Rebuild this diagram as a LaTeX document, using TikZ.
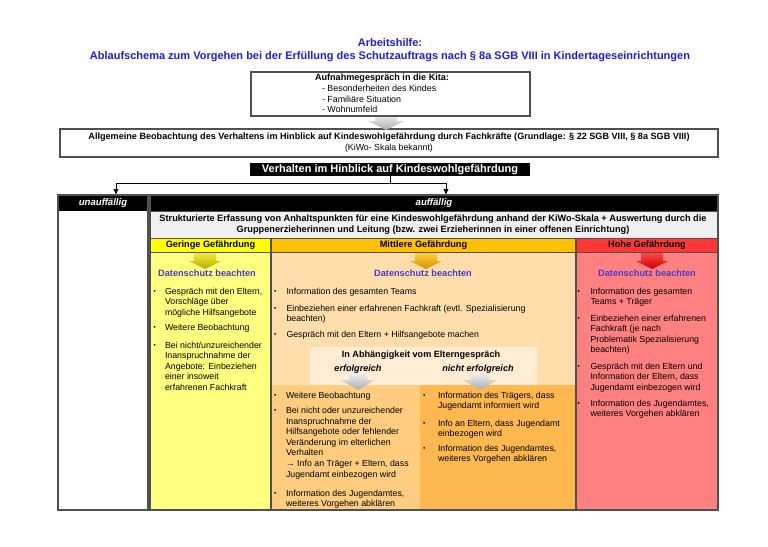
\documentclass[tikz,border=0pt]{standalone}
\usepackage{fontspec}
\setmainfont{Liberation Sans}
\usetikzlibrary{arrows.meta}
\definecolor{tblue}{RGB}{30,30,215}
\definecolor{dsblue}{RGB}{70,60,205}
\definecolor{lyel}{RGB}{255,255,128}
\definecolor{hyel}{RGB}{255,255,0}
\definecolor{horg}{RGB}{255,192,0}
\definecolor{lorg}{RGB}{255,222,172}
\definecolor{morg}{RGB}{255,204,128}
\definecolor{dorg}{RGB}{255,184,80}
\definecolor{hred}{RGB}{255,55,55}
\definecolor{lred}{RGB}{255,128,128}
\definecolor{sgray}{RGB}{240,240,240}
\definecolor{bord}{RGB}{80,80,80}
\definecolor{abox}{RGB}{255,236,212}
\newcommand\bu[1]{\makebox[#1][l]{\raisebox{0.8pt}{\fontsize{6.5}{5}\selectfont\textbullet}}}
\newcommand\ind[1]{\hspace*{#1}}
\newcommand\dnarrow[7]{\shade[#7] ({#1-#5},#2) -- ({#1+#5},#2) -- ({#1+#5},#3) -- ({#1+#6},#3) -- (#1,#4) -- ({#1-#6},#3) -- ({#1-#5},#3) -- cycle;}
\begin{document}
\begin{tikzpicture}[x=1pt,y=-1pt,
 every node/.style={inner sep=0pt,outer sep=0pt},
 ttl/.style={font=\fontsize{11}{13}\selectfont\bfseries,text=tblue},
 bld/.style={font=\fontsize{9.1}{10}\selectfont\bfseries},
 txt/.style={font=\fontsize{8.8}{10}\selectfont},
 itm/.style={font=\fontsize{8.8}{10.4}\selectfont,anchor=north west,align=left},
 ds/.style={font=\fontsize{9.2}{10}\selectfont\bfseries,text=dsblue},
 conn/.style={line width=0.9pt,-{Latex[length=6pt,width=5.5pt]}},
 hdr/.style={fill=black,text=white,font=\fontsize{9.6}{10}\selectfont\bfseries\itshape},
 lvl/.style={font=\fontsize{9.2}{10}\selectfont\bfseries},
 frame/.style={draw=bord,line width=1.1pt},
]
\fill[white] (0,0) rectangle (768,546);
\useasboundingbox (0,0) rectangle (768,546);

% title
\node[ttl] (t1) at (390,43) {Arbeitshilfe:};
\node[ttl] (t2) at (390,57) {Ablaufschema zum Vorgehen bei der Erfüllung des Schutzauftrags nach § 8a SGB VIII in Kindertageseinrichtungen};

% Aufnahme box
\node[frame,fill=white,minimum width=279pt,minimum height=44pt] (aufbox) at (390.5,94) {};
\node[bld] (auft) at (382,78) {Aufnahmegespräch in die Kita:};
\node[itm,font=\fontsize{8.9}{10.2}\selectfont] (aufl) at (322,85.5) {- Besonderheiten des Kindes\\- Familiäre Situation\\- Wohnumfeld};

% Allgemeine box
\node[frame,fill=white,minimum width=658pt,minimum height=28pt] (allbox) at (389,143) {};
\node[bld] (all1) at (389,137) {Allgemeine Beobachtung des Verhaltens im Hinblick auf Kindeswohlgefährdung durch Fachkräfte (Grundlage: § 22 SGB VIII, § 8a SGB VIII)};
\node[txt] (all2) at (389,148.5) {(KiWo- Skala bekannt)};

% gray arrow
\dnarrow{386}{117}{121}{130}{11}{18}{top color=gray!20,bottom color=gray!65}

% black bar
\node[fill=black,text=white,font=\fontsize{11}{12}\selectfont\bfseries,minimum width=280pt,minimum height=13.5pt] (bar) at (390,169.5) {Verhalten im Hinblick auf Kindeswohlgefährdung};

% headers
\node[hdr,minimum width=90pt,minimum height=16pt] (unh) at (103,203) {unauffällig};
\node[hdr,minimum width=568pt,minimum height=16pt] (auh) at (434,203) {auffällig};
\coordinate (jn) at (390,183);
\coordinate (ua) at (116,195);
\coordinate (aa) at (446,195);
\draw[conn] (bar.south) -- (jn) -| (ua);
\draw[conn] (jn) -| (aa);

% bodies
\node[fill=white,minimum width=90pt,minimum height=299pt] (unb) at (103,360.5) {};
\node[fill=sgray,minimum width=568pt,minimum height=27pt] (struk) at (434,224.5) {};
\node[bld,align=center,font=\fontsize{9.2}{11}\selectfont\bfseries] (strukt) at (433,224.5) {Strukturierte Erfassung von Anhaltspunkten für eine Kindeswohlgefährdung anhand der KiWo-Skala + Auswertung durch die\\Gruppenerzieherinnen und Leitung (bzw. zwei Erzieherinnen in einer offenen Einrichtung)};

\node[lvl,fill=hyel,minimum width=121pt,minimum height=14pt] (gh) at (210.5,245) {Geringe Gefährdung};
\node[lvl,fill=horg,minimum width=305pt,minimum height=14pt] (mh) at (423.5,245) {Mittlere Gefährdung};
\node[lvl,fill=hred,minimum width=142pt,minimum height=14pt] (hh) at (647,245) {Hohe Gefährdung};

\node[fill=lyel,minimum width=121pt,minimum height=258pt] (gb) at (210.5,381) {};
\node[fill=lorg,minimum width=305pt,minimum height=133pt] (mb) at (423.5,318.5) {};
\node[fill=morg,minimum width=149pt,minimum height=125pt] (mlb) at (345.5,447.5) {};
\node[fill=dorg,minimum width=156pt,minimum height=125pt] (mrb) at (498,447.5) {};
\node[fill=lred,minimum width=142pt,minimum height=258pt] (hb) at (647,381) {};
\node[fill=abox,minimum width=227pt,minimum height=38pt] (abb) at (423.5,366) {};

% Datenschutz arrows
\dnarrow{205}{253}{261}{269}{11}{16}{top color={rgb,255:red,240;green,235;blue,60},bottom color={rgb,255:red,185;green,170;blue,0}}
\dnarrow{426}{253}{261}{269}{11}{16}{top color={rgb,255:red,255;green,205;blue,60},bottom color={rgb,255:red,215;green,145;blue,0}}
\dnarrow{652}{253}{261}{269}{11}{16}{top color={rgb,255:red,255;green,70;blue,70},bottom color={rgb,255:red,205;green,0;blue,0}}
\node[ds] (dsg) at (207,273.5) {Datenschutz beachten};
\node[ds] (dsm) at (423,273.5) {Datenschutz beachten};
\node[ds] (dsh) at (647,273.5) {Datenschutz beachten};

% Geringe items
\node[itm] (g1) at (153.5,288) {\bu{11.5pt}Gespräch mit den Eltern,\\\ind{11.5pt}Vorschläge über\\\ind{11.5pt}mögliche Hilfsangebote};
\node[itm] (g2) at (153.5,324) {\bu{11.5pt}Weitere Beobachtung};
\node[itm,font=\fontsize{8.8}{10.5}\selectfont] (g3) at (153.5,342) {\bu{11.5pt}Bei nicht/unzureichender\\\ind{11.5pt}Inanspruchnahme der\\\ind{11.5pt}Angebote: Einbeziehen\\\ind{11.5pt}einer insoweit\\\ind{11.5pt}erfahrenen Fachkraft};

% Mittlere items
\node[itm] (m1) at (274,288) {\bu{12.5pt}Information des gesamten Teams};
\node[itm] (m2) at (274,305) {\bu{12.5pt}Einbeziehen einer erfahrenen Fachkraft (evtl. Spezialisierung\\\ind{12.5pt}beachten)};
\node[itm] (m3) at (274,331) {\bu{12.5pt}Gespräch mit den Eltern + Hilfsangebote machen};

% Abhaengigkeit
\node[bld] (abt) at (421,355) {In Abhängigkeit vom Elterngespräch};
\node[bld,font=\fontsize{9.1}{10}\selectfont\bfseries\itshape] (erf) at (358,369.5) {erfolgreich};
\node[bld,font=\fontsize{9.1}{10}\selectfont\bfseries\itshape] (nerf) at (478,369.5) {nicht erfolgreich};
\dnarrow{358}{374}{380}{390}{9}{17}{top color=gray!15,bottom color=gray!65}
\dnarrow{480}{374}{380}{390}{9}{17}{top color=gray!15,bottom color=gray!65}

% lower left
\node[itm] (l1) at (274,392) {\bu{12pt}Weitere Beobachtung};
\node[itm,font=\fontsize{8.8}{10.65}\selectfont] (l2) at (274,407) {\bu{12pt}Bei nicht oder unzureichender\\\ind{12pt}Inanspruchnahme der\\\ind{12pt}Hilfsangebote oder fehlender\\\ind{12pt}Veränderung im elterlichen\\\ind{12pt}Verhalten\\\ind{12pt}→ Info an Träger + Eltern, dass\\\ind{12pt}Jugendamt einbezogen wird};
\node[itm] (l3) at (274,490) {\bu{12pt}Information des Jugendamtes,\\\ind{12pt}weiteres Vorgehen abklären};

% lower right
\node[itm] (r1) at (423,392) {\bu{15pt}Information des Trägers, dass\\\ind{15pt}Jugendamt informiert wird};
\node[itm] (r2) at (423,420) {\bu{15pt}Info an Eltern, dass Jugendamt\\\ind{15pt}einbezogen wird};
\node[itm] (r3) at (423,445) {\bu{15pt}Information des Jugendamtes,\\\ind{15pt}weiteres Vorgehen abklären};

% Hohe items
\node[itm] (h1) at (577.5,288) {\bu{13pt}Information des gesamten\\\ind{13pt}Teams + Träger};
\node[itm] (h2) at (577.5,315) {\bu{13pt}Einbeziehen einer erfahrenen\\\ind{13pt}Fachkraft (je nach\\\ind{13pt}Problematik Spezialisierung\\\ind{13pt}beachten)};
\node[itm] (h3) at (577.5,363) {\bu{13pt}Gespräch mit den Eltern und\\\ind{13pt}Information der Eltern, dass\\\ind{13pt}Jugendamt einbezogen wird};
\node[itm] (h4) at (577.5,400) {\bu{13pt}Information des Jugendamtes,\\\ind{13pt}weiteres Vorgehen abklären};

% borders
\draw[bord,line width=0.6pt] (150,211) -- (718,211);
\draw[bord,line width=0.6pt] (150,238) -- (718,238);
\draw[bord,line width=0.6pt] (150,252) -- (718,252);
\draw[bord,line width=1.1pt] (271,238) -- (271,510);
\draw[bord,line width=1.1pt] (576,238) -- (576,510);
\draw[frame] (58,195) rectangle (148,510);
\draw[frame] (150,195) rectangle (718,510);
\end{tikzpicture}
\end{document}
